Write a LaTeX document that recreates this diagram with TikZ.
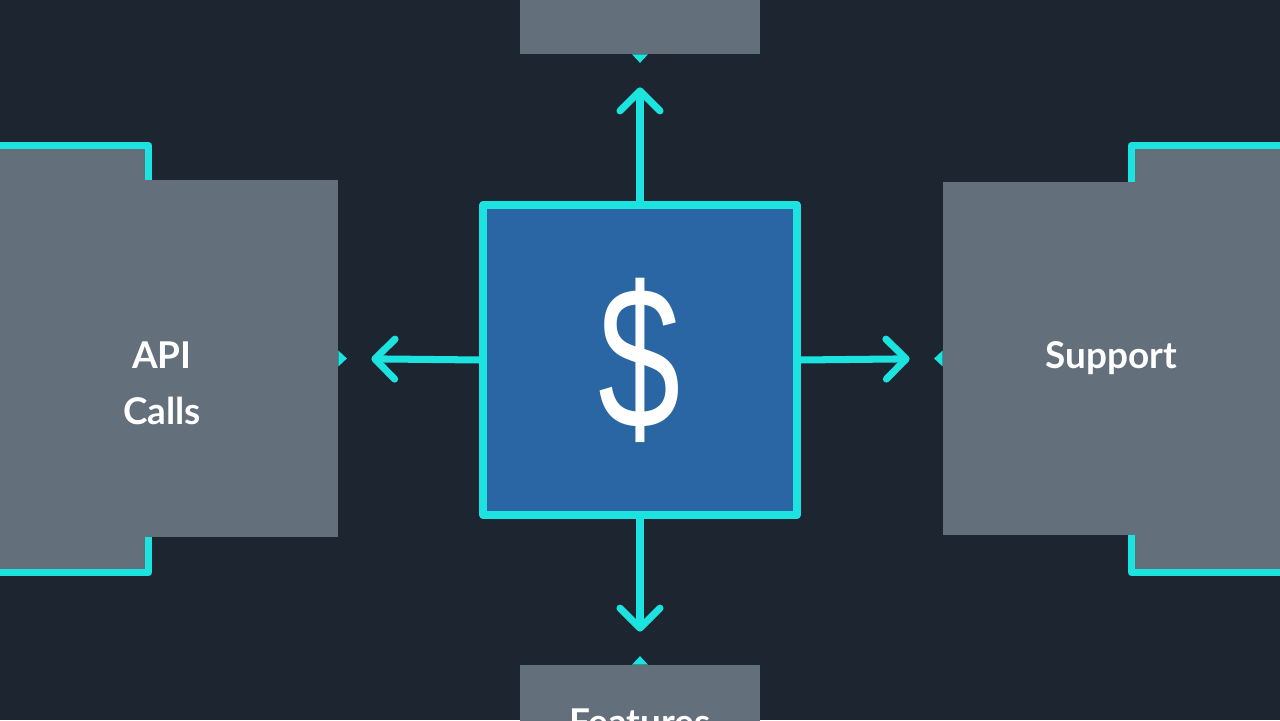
\documentclass[tikz,border=0pt]{standalone}
\usepackage{fontspec}
\setmainfont{Lato}
\newfontfamily\dollarfont{Liberation Sans}
\usepackage{tikz}
\usetikzlibrary{arrows.meta}

\definecolor{bgdark}{HTML}{1D2630}
\definecolor{slate}{HTML}{636F7A}
\definecolor{moneyblue}{HTML}{2A66A3}
\definecolor{glow}{HTML}{1CE3E0}

\begin{document}
\begin{tikzpicture}[
line join=round,
side node/.style={rectangle,
								fill=slate,
								text=white,
								align=center,
								font=\fontsize{21}{32}\selectfont\bfseries},
label text/.style={text=white,
								align=center,
								font=\fontsize{21}{32}\selectfont\bfseries},
back box/.style={fill=slate, draw=glow, line width=4pt},
flow/.style={draw=glow, line width=4pt, line cap=round,
								-{Straight Barb[length=4mm,width=8mm,round]},
								shorten >=0.66cm},
notch/.style={fill=glow}]
\useasboundingbox (0,0) rectangle (25.6,14.4);
\fill[bgdark] (0,0) rectangle (25.6,14.4);
%back boxes
  \draw[back box] (-0.5,2.95) -- (2.97,2.95) -- (2.97,11.49) -- (-0.5,11.49);
  \draw[back box] (26,2.95) -- (22.63,2.95) -- (22.63,11.49) -- (26,11.49);
%left
  \node[side node, minimum width=7.04cm, minimum height=7.14cm] (api) at (3.24,7.23) {};
  \node[label text] (api text) at ([yshift=-0.5cm]api.center) {API\\Calls};
%right
  \node[side node, minimum width=6.72cm, minimum height=7.06cm] (support) at (22.22,7.23) {Support};
%top
  \node[side node, minimum width=4.8cm, minimum height=2.4cm] (storage) at (12.8,14.52) {};
%bottom
  \node[side node, minimum width=4.8cm, minimum height=2.3cm] (features) at (12.8,-0.05) {Features};
%center
  \node[rectangle, fill=moneyblue, draw=glow, line width=4pt,
        minimum width=6.28cm, minimum height=6.2cm, text=white,
        font=\dollarfont\fontsize{108}{108}\selectfont] (money) at (12.8,7.2) {\scalebox{0.78}[1.07]{\$}};
%paths
  \path[flow] (money.north) -- (storage.south);
  \path[flow] (money.south) -- (features.north);
  \path[flow] (money.west) -- (api.east);
  \path[flow] (money.east) -- (support.west);
%notches
  \fill[notch] ([xshift=-0.16cm]storage.south) -- ([xshift=0.16cm]storage.south) -- ([yshift=-0.17cm]storage.south) -- cycle;
  \fill[notch] ([xshift=-0.16cm]features.north) -- ([xshift=0.16cm]features.north) -- ([yshift=0.17cm]features.north) -- cycle;
  \fill[notch] ([yshift=-0.16cm]api.east) -- ([yshift=0.16cm]api.east) -- ([xshift=0.17cm]api.east) -- cycle;
  \fill[notch] ([yshift=-0.16cm]support.west) -- ([yshift=0.16cm]support.west) -- ([xshift=-0.17cm]support.west) -- cycle;
\end{tikzpicture}
\end{document}
